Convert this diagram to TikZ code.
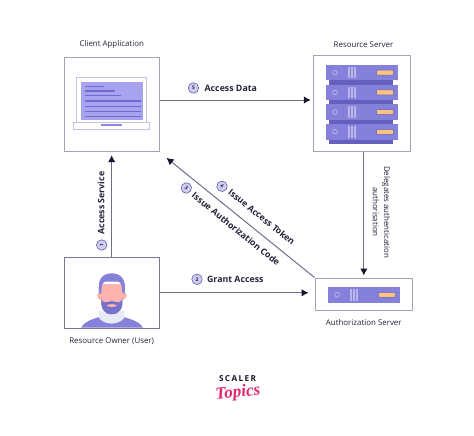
\documentclass[tikz,border=0pt]{standalone}
\usepackage{fontspec}
\setmainfont{Open Sans}
\newfontfamily\logofont{Liberation Serif}
\usetikzlibrary{arrows.meta}
\definecolor{boxline}{HTML}{A3A3B5}
\definecolor{ownerline}{HTML}{77779A}
\definecolor{arrowline}{HTML}{6F6F8C}
\definecolor{tip}{HTML}{15152F}
\definecolor{srv}{HTML}{8580DA}
\definecolor{srvdark}{HTML}{6560BE}
\definecolor{srvlight}{HTML}{B9B6EC}
\definecolor{scr}{HTML}{A7A3EE}
\definecolor{scrline}{HTML}{6F6ACB}
\definecolor{lapline}{HTML}{C4C2E4}
\definecolor{amber}{HTML}{F7C581}
\definecolor{skin}{HTML}{FDB3AE}
\definecolor{collar}{HTML}{E9E8F6}
\definecolor{beard}{HTML}{7672C9}
\definecolor{badgefill}{HTML}{CFCDF4}
\definecolor{badgeline}{HTML}{5F5CA8}
\definecolor{ink}{HTML}{23233A}
\definecolor{pinky}{HTML}{E0266F}
\tikzset{
  box/.style={draw=boxline,line width=1pt,fill=white,inner sep=0pt},
  conn/.style={draw=arrowline,line width=1pt,-{Latex[length=7pt,width=7.5pt,color=tip]}},
  captext/.style={font=\fontsize{7.9}{11.4}\selectfont,text=ink,inner sep=0pt},
  labtext/.style={font=\fontsize{8.8}{10}\selectfont\bfseries,text=ink,inner sep=0pt},
  badge/.style={circle,draw=badgeline,fill=badgefill,line width=.6pt,minimum size=10.5pt,inner sep=0pt,font=\fontsize{5}{5}\selectfont\bfseries,text=ink},
}
\newcommand{\srvunit}[3]{% x, y top, height
  \fill[srv] (#1,#2) rectangle ++(71.5,#3);
  \draw[srvlight,line width=.8pt] ({#1+9},{#2+#3/2}) circle (2.3);
  \fill[srvlight] ({#1+22},{#2+2}) rectangle ++(7.5,{#3-4});
  \draw[srv,line width=.4pt] ({#1+24.5},{#2+2}) -- ++(0,{#3-4}) ({#1+27},{#2+2}) -- ++(0,{#3-4});
  \fill[amber,draw=srvdark,line width=.5pt,rounded corners=.8pt] ({#1+50.5},{#2+#3/2-2.5}) rectangle ++(17,5);
}
\begin{document}
\begin{tikzpicture}[x=1pt,y=-1pt]
\useasboundingbox (0,0) rectangle (474,436);
\fill[white] (0,0) rectangle (474,436);

% boxes
\node[box,minimum width=94.7pt,minimum height=94.4pt] (client) at (111.65,104.5) {};
\node[box,minimum width=97pt,minimum height=95.7pt] (resource) at (361.8,103.85) {};
\node[box,draw=ownerline,minimum width=94.7pt,minimum height=71pt] (owner) at (111.65,292.8) {};
\node[box,minimum width=97.7pt,minimum height=32.7pt] (auth) at (363.85,294.35) {};

% captions
\node[captext] (captionclient) at (111.7,44.3) {Client Application};
\node[captext] (captionresource) at (363.5,44.3) {Resource Server};
\node[captext] (captionowner) at (111.7,341.3) {Resource Owner (User)};
\node[captext] (captionauth) at (363.8,322.8) {Authorization Server};

% laptop
\draw[lapline,line width=1pt,fill=white] (76.7,77.3) rectangle (146.7,122.7);
\fill[scr] (80.7,81.7) rectangle (142.7,120);
\draw[lapline,line width=1pt,fill=white] (73.3,122.7) rectangle (149.7,129.3);
\fill[scrline!80!white] (101.3,123.6) rectangle (122.3,126);
\foreach \yy/\xe in {86.7/104,91/115,95.5/121,101.2/140.5,106.3/140.5,111.3/140.5,116.3/140.5}
  \draw[scrline,line width=1.6pt] (84.5,\yy) -- (\xe,\yy);

% resource servers
\foreach \yt in {65,84.7,104.3,124}{
  \fill[srvdark] (329,\yt+10) rectangle (393,\yt+19.7);
}
\foreach \yt in {65,84.7,104.3,124}{
  \srvunit{326}{\yt}{15.5}
}

% auth server
\srvunit{328}{287}{15.5}

% person
\fill[srv] (81,327.7) .. controls (85,321) and (92,319.5) .. (100,316.7) -- (123,316.7) .. controls (131,319.5) and (139,321) .. (143,327.7) -- cycle;
\fill[collar] (99,311) -- (124.3,311) -- (124.3,318) .. controls (118,325.5) and (105,325.5) .. (99,318) -- cycle;
\fill[skin] (97.3,295.5) .. controls (97.3,291.5) and (101,291.5) .. (101,294) -- (122.7,294) .. controls (122.7,291.5) and (126.7,291.5) .. (126.7,295.5) .. controls (126.7,299) and (123.5,300) .. (122,300) -- (101.5,300) .. controls (100,300) and (97.3,299) .. (97.3,295.5) -- cycle;
\fill[skin] (101.3,284) rectangle (122.3,305);
\fill[srv] (99.3,293.5) .. controls (96.5,279) and (103,273.3) .. (111.7,273.3) .. controls (120.5,273.3) and (127,279) .. (124.5,293.5) -- (122.3,293.5) .. controls (122.3,286) and (121,281.7) .. (118,281.7) -- (105.5,281.7) .. controls (102.5,281.7) and (101.3,286) .. (101.3,293.5) -- cycle;
\fill[beard] (101.5,298) .. controls (102.5,303.5) and (104,303) .. (111.7,301) .. controls (119.5,303) and (121,303.5) .. (122.3,298) .. controls (123.5,308) and (120,314.3) .. (111.7,314.3) .. controls (103.5,314.3) and (100.2,308) .. (101.5,298) -- cycle;
\fill[skin] (106.5,305.3) .. controls (109,303.8) and (114.5,303.8) .. (117,305.3) .. controls (114.5,307.6) and (109,307.6) .. (106.5,305.3) -- cycle;

% connectors
\draw[conn,shorten >=2pt] ([yshift=4.5pt]client.east) -- ([yshift=4.5pt]client.east -| resource.west);
\draw[conn,shorten >=2pt] (auth.north |- resource.south) -- (auth.north);
\draw[conn,shorten >=6pt] (owner.east) -- (owner.east -| auth.west);
\draw[conn,shorten >=9pt] (auth.north west) -- (client.south east);
\draw[conn,shorten >=3pt] (owner.north) -- (client.south);

% labels
\node[badge] (b5) at (193.5,88) {5};
\node[labtext] (l5) at (230.8,88) {Access Data};
\node[badge] (b2) at (197,279.3) {2};
\node[labtext] (l2) at (235.3,279.3) {Grant Access};
\node[badge,rotate=90] (b1) at (101.7,245) {1};
\node[labtext,rotate=90] (l1) at (101,203) {Access Service};
\node[badge,rotate=-39] (b4) at (222,186.3) {4};
\node[labtext,rotate=-39] (l4) at (261.7,217) {Issue Access Token};
\node[badge,rotate=-39] (b3) at (186.3,188) {3};
\node[labtext,rotate=-39] (l3) at (236,229) {Issue Authorization Code};
\node[captext,rotate=-90,align=center] (l6) at (381.5,212) {Delegates authentication\\authorisation};

% logo
\node[inner sep=0pt,text=tip,font=\fontsize{8.2}{10}\selectfont\bfseries] (scaler) at (237.5,379) {S\,C\,A\,L\,E\,R};
\node[inner sep=0pt,text=pinky,rotate=6,font=\logofont\fontsize{17}{17}\selectfont\itshape\bfseries] (topics) at (238,393) {Topics};
\end{tikzpicture}
\end{document}
